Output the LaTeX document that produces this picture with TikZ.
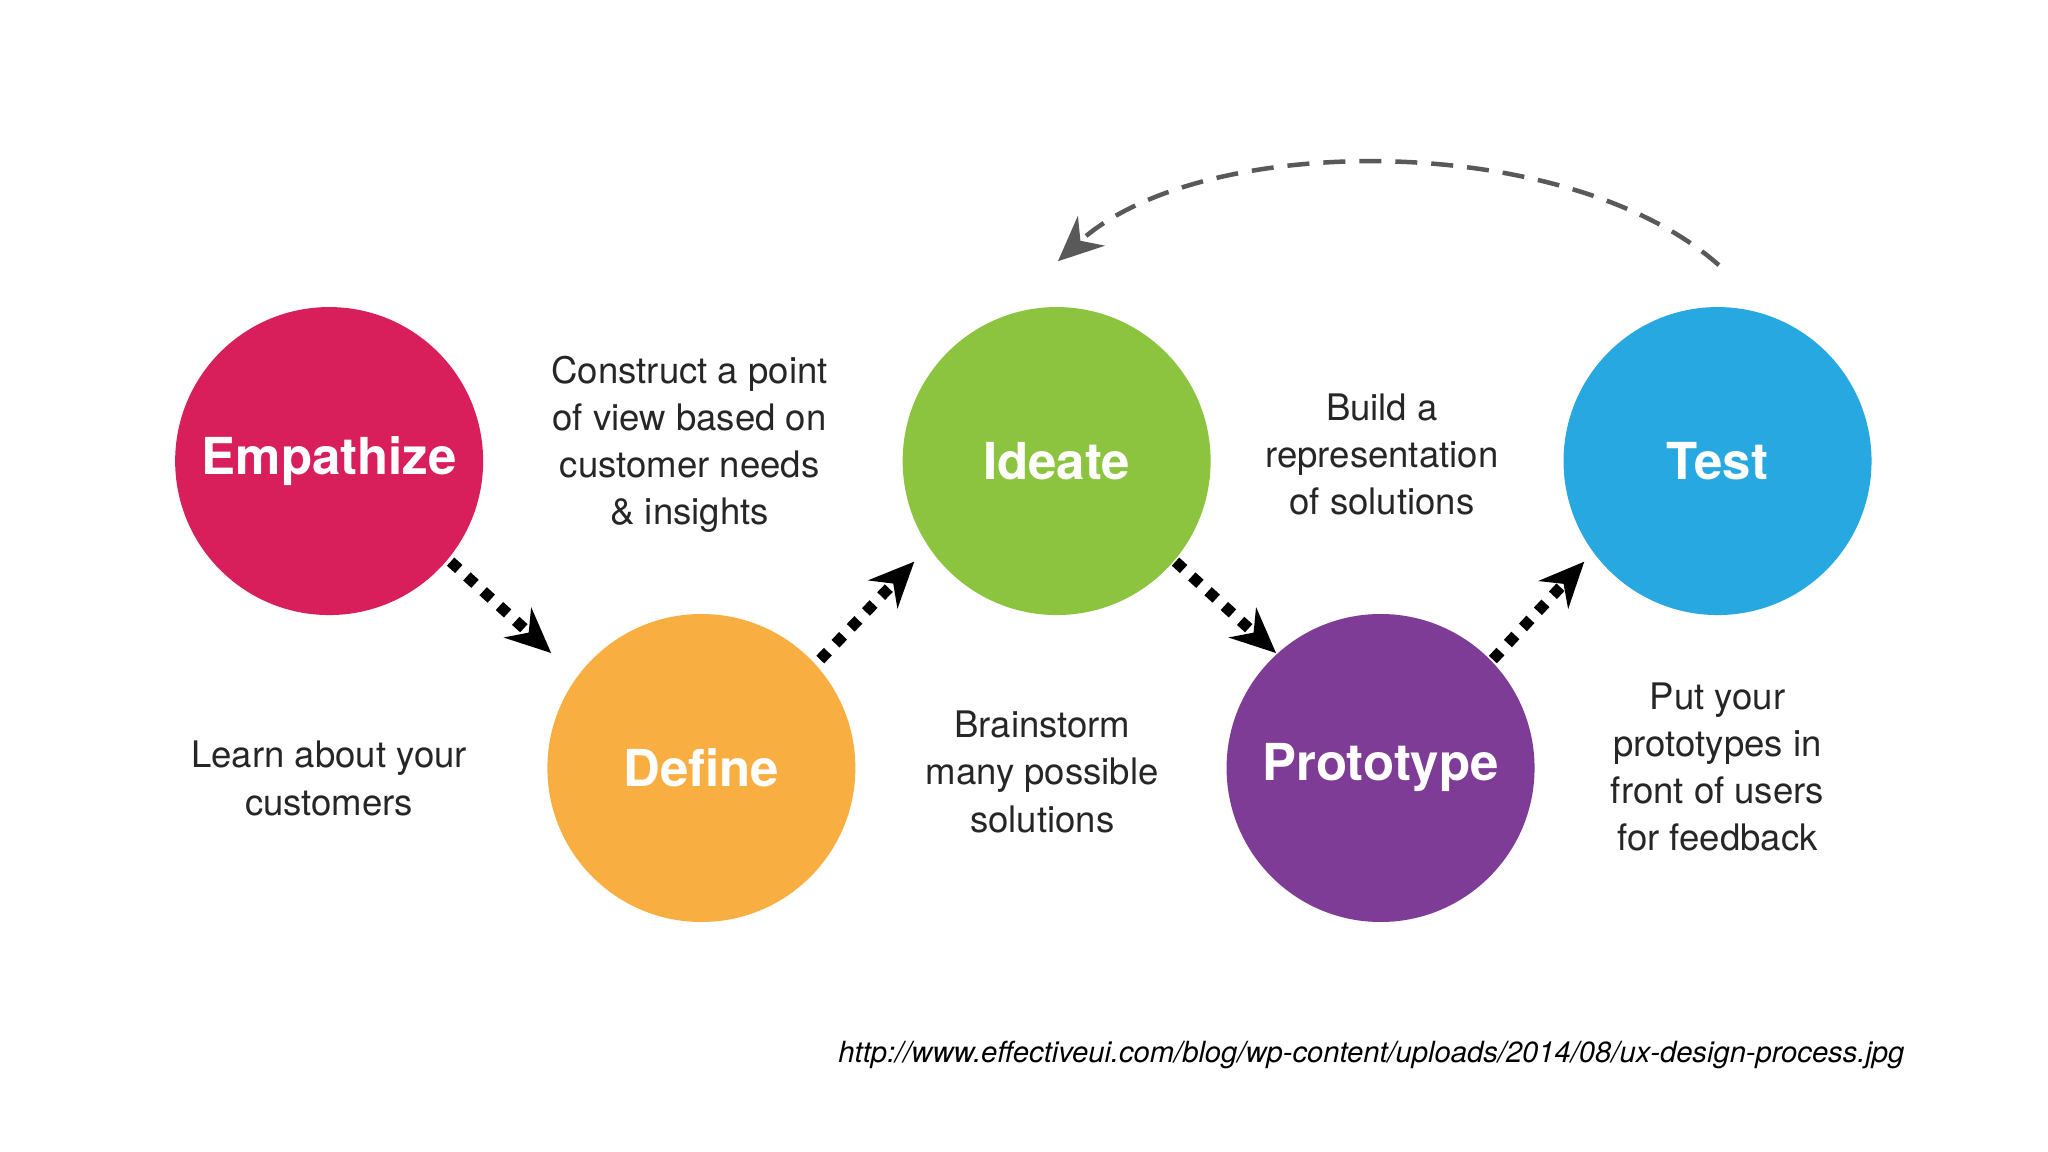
\documentclass[tikz,border=0pt]{standalone}
\usepackage{fontspec}
\setmainfont{TeX Gyre Heros}
\usetikzlibrary{arrows.meta}
\definecolor{cEmp}{HTML}{D81E5B}
\definecolor{cDef}{HTML}{F9AE41}
\definecolor{cIde}{HTML}{8CC43F}
\definecolor{cPro}{HTML}{7E3C96}
\definecolor{cTes}{HTML}{28A8E0}
\begin{document}
\begin{tikzpicture}[x=0.013061cm,y=-0.013061cm,
  stage/.style={circle,minimum size=3.08cm,inner sep=0pt,text=white,font=\fontsize{14.5}{17}\selectfont\bfseries},
  desc/.style={align=center,font=\fontsize{10.4}{13.4}\selectfont,text=black!85},
  flow/.style={line width=1.1mm,dash pattern=on 1.1mm off 1.1mm,-{Stealth[length=4.5mm,width=4mm]}},
  back/.style={line width=0.45mm,draw=black!65,dash pattern=on 2.2mm off 1.4mm,-{Stealth[length=4.5mm,width=4mm]}}]
\useasboundingbox[fill=white] (0,0) rectangle (1568,882);
\node[stage,fill=cEmp] (emp) at (252,353) {Empathize};
\node[stage,fill=cDef] (def) at (537,588) {Define};
\node[stage,fill=cIde] (ide) at (809,353) {Ideate};
\node[stage,fill=cPro] (pro) at (1057,588) {Prototype};
\node[stage,fill=cTes] (tes) at (1315,353) {Test};
\node[desc] (d1) at (252,596) {Learn about your\\customers};
\node[desc] (d2) at (528,340) {Construct a point\\of view based on\\customer needs\\\& insights};
\node[desc] (d3) at (798,591) {Brainstorm\\many possible\\solutions};
\node[desc] (d4) at (1058,348) {Build a\\representation\\of solutions};
\node[desc] (d5) at (1315,587) {Put your\\prototypes in\\front of users\\for feedback};
\node[font=\fontsize{8.3}{10}\selectfont\itshape] (url) at (1050,808) {http://www.effectiveui.com/blog/wp-content/uploads/2014/08/ux-design-process.jpg};
\coordinate (a1) at (345,430); \coordinate (b1) at (422,500);
\coordinate (a2) at (628,505); \coordinate (b2) at (700,430);
\coordinate (a3) at (900,430); \coordinate (b3) at (977,500);
\coordinate (a4) at (1143,505); \coordinate (b4) at (1213,430);
\draw[flow] (a1) -- (b1);
\draw[flow] (a2) -- (b2);
\draw[flow] (a3) -- (b3);
\draw[flow] (a4) -- (b4);
\coordinate (s) at (1316,203); \coordinate (e) at (810,200);
\draw[back] (s) .. controls (1200,100) and (920,100) .. (e);
\end{tikzpicture}
\end{document}
